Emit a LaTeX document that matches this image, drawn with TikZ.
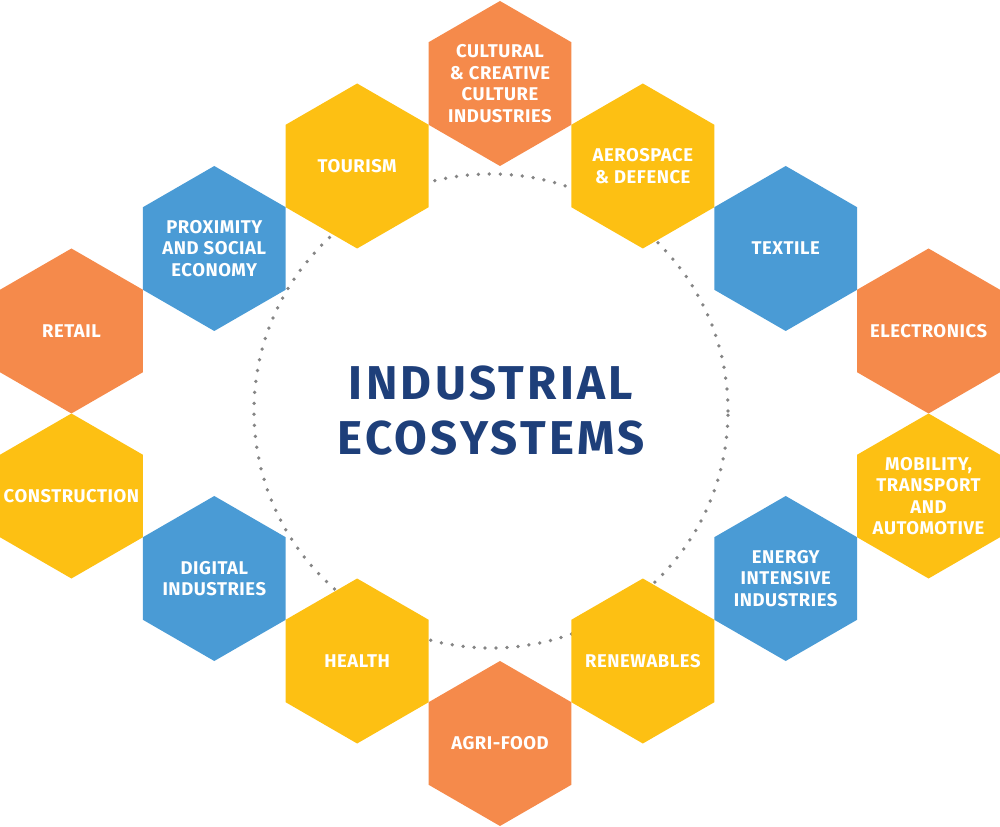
\documentclass[tikz,border=0pt]{standalone}
\usepackage{fontspec}
\newfontfamily\hexfont[LetterSpace=3]{Fira Sans}
\newfontfamily\titlefont[LetterSpace=7]{Fira Sans}
\usetikzlibrary{shapes.geometric}
\definecolor{ecorange}{HTML}{F58A4B}
\definecolor{ecyellow}{HTML}{FDC013}
\definecolor{ecblue}{HTML}{4A9BD5}
\definecolor{ecnavy}{HTML}{1E3F7A}
\definecolor{ecdots}{HTML}{858585}
\begin{document}
\begin{tikzpicture}[
    hexa/.style={regular polygon,regular polygon sides=6,
        shape border rotate=30,minimum size=3.3cm,
        inner sep=0pt,outer sep=0pt,fill=#1},
    hexlabel/.style={text=white,align=center,
        font={\hexfont\bfseries\fontsize{10.5}{12.2}\selectfont}},
    ring/.style={circle,minimum size=9.48cm,draw=ecdots,
        line width=0.075cm,line cap=round,
        dash pattern=on 0pt off 0.22cm},
    title/.style={text=ecnavy,align=center,
        font={\titlefont\bfseries\fontsize{27}{31.3}\selectfont}},
    ]
    % Frame
    \useasboundingbox (-10,-8.27) rectangle (10,8.27);

    % Dotted circle
    \node[ring] (ring) at (-0.18,0.05) {};

    % Top half
    \node[hexa=ecorange,label={[hexlabel]center:{CULTURAL\\\& CREATIVE\\CULTURE\\INDUSTRIES}}] (cultural) at (0,6.6) {};
    \node[hexa=ecyellow,label={[hexlabel]center:TOURISM}] (tourism) at (-2.857,4.95) {};
    \node[hexa=ecyellow,label={[hexlabel]center:{AEROSPACE\\\& DEFENCE}}] (aerospace) at (2.857,4.95) {};
    \node[hexa=ecblue,label={[hexlabel]center:{PROXIMITY\\AND SOCIAL\\ECONOMY}}] (proximity) at (-5.714,3.3) {};
    \node[hexa=ecblue,label={[hexlabel]center:TEXTILE}] (textile) at (5.714,3.3) {};
    \node[hexa=ecorange,label={[hexlabel]center:RETAIL}] (retail) at (-8.571,1.65) {};
    \node[hexa=ecorange,label={[hexlabel]center:ELECTRONICS}] (electronics) at (8.571,1.65) {};

    % Bottom half
    \node[hexa=ecyellow,label={[hexlabel]center:CONSTRUCTION}] (construction) at (-8.571,-1.65) {};
    \node[hexa=ecyellow,label={[hexlabel]center:{MOBILITY,\\TRANSPORT\\AND\\AUTOMOTIVE}}] (mobility) at (8.571,-1.65) {};
    \node[hexa=ecblue,label={[hexlabel]center:{DIGITAL\\INDUSTRIES}}] (digital) at (-5.714,-3.3) {};
    \node[hexa=ecblue,label={[hexlabel]center:{ENERGY\\INTENSIVE\\INDUSTRIES}}] (energy) at (5.714,-3.3) {};
    \node[hexa=ecyellow,label={[hexlabel]center:HEALTH}] (health) at (-2.857,-4.95) {};
    \node[hexa=ecyellow,label={[hexlabel]center:RENEWABLES}] (renewables) at (2.857,-4.95) {};
    \node[hexa=ecorange,label={[hexlabel]center:AGRI-FOOD}] (agrifood) at (0,-6.6) {};

    % Title
    \node[title] (ecosystems) at (ring.center) {INDUSTRIAL\\ECOSYSTEMS};
\end{tikzpicture}
\end{document}
